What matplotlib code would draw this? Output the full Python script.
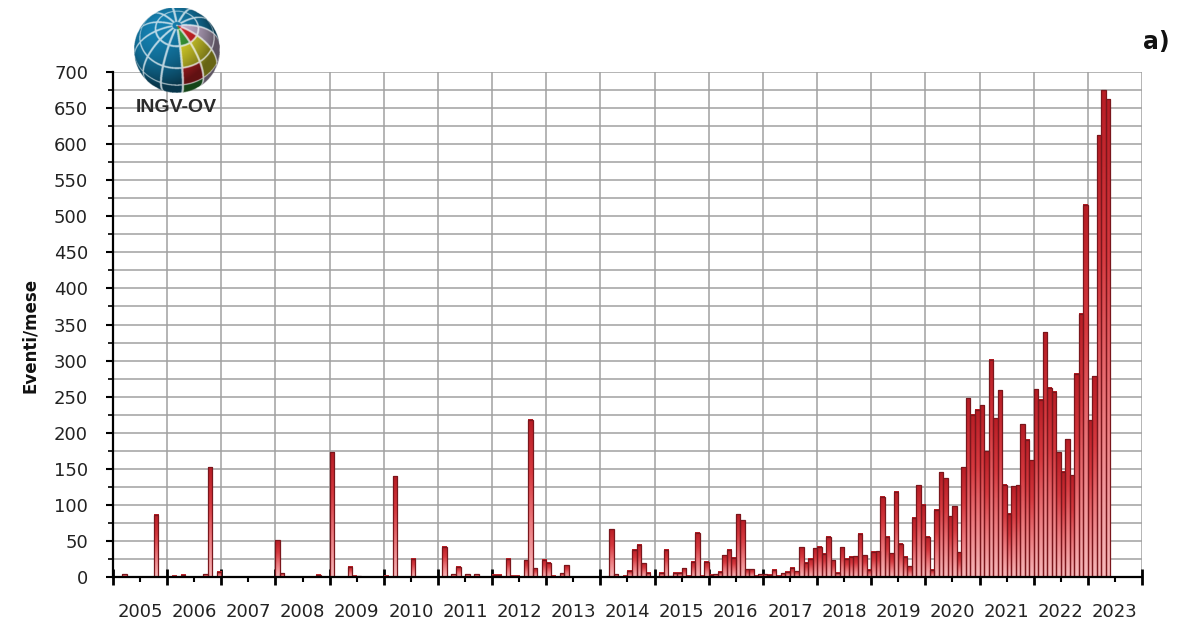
import numpy as np
import matplotlib
matplotlib.use("Agg")
import matplotlib.pyplot as plt
from matplotlib.colors import LinearSegmentedColormap, to_rgb

# ---------------- data (events per month, Jan..Dec) ----------------
years = list(range(2005, 2024))
year_labels = [str(y) for y in years]

ev_2005 = [0, 0, 4, 0, 0, 0, 0, 0, 0, 86, 0, 0]
ev_2006 = [0, 2, 0, 3, 0, 0, 0, 0, 4, 152, 0, 7]
ev_2007 = [0, 0, 0, 0, 0, 0, 0, 0, 0, 0, 0, 0]
ev_2008 = [51, 5, 0, 0, 0, 0, 0, 0, 0, 3, 0, 0]
ev_2009 = [173, 0, 0, 0, 14, 2, 1, 0, 0, 0, 0, 0]
ev_2010 = [2, 0, 140, 0, 0, 0, 25, 0, 0, 0, 0, 0]
ev_2011 = [0, 42, 0, 4, 14, 0, 4, 0, 4, 0, 0, 0]
ev_2012 = [3, 3, 0, 25, 2, 2, 0, 23, 218, 12, 0, 24]
ev_2013 = [20, 2, 0, 5, 16, 0, 0, 0, 0, 0, 0, 0]
ev_2014 = [0, 0, 66, 4, 0, 2, 9, 38, 45, 19, 6, 0]
ev_2015 = [0, 6, 38, 1, 6, 6, 12, 2, 21, 61, 2, 21]
ev_2016 = [3, 4, 7, 30, 38, 27, 87, 79, 11, 11, 2, 4]
ev_2017 = [4, 3, 10, 2, 5, 7, 13, 8, 41, 20, 25, 40]
ev_2018 = [42, 32, 56, 23, 6, 41, 25, 28, 29, 60, 30, 10]
ev_2019 = [35, 36, 111, 56, 33, 118, 46, 28, 15, 82, 127, 100]
ev_2020 = [56, 10, 93, 145, 137, 84, 98, 34, 152, 248, 225, 232]
ev_2021 = [238, 174, 301, 220, 259, 128, 88, 126, 127, 212, 190, 162]
ev_2022 = [260, 246, 339, 262, 257, 173, 146, 191, 141, 282, 365, 516]
ev_2023 = [217, 278, 612, 675, 662]

monthly_events = (ev_2005 + ev_2006 + ev_2007 + ev_2008 + ev_2009 + ev_2010 +
                  ev_2011 + ev_2012 + ev_2013 + ev_2014 + ev_2015 + ev_2016 +
                  ev_2017 + ev_2018 + ev_2019 + ev_2020 + ev_2021 + ev_2022 +
                  ev_2023)

y_major = list(range(0, 701, 50))
y_minor = list(range(25, 700, 50))

# ---------------- figure ----------------
W, H = 1200, 633
plt.rcParams['font.family'] = ['DejaVu Sans']
fig = plt.figure(figsize=(W / 100, H / 100), dpi=100)
fig.patch.set_facecolor('white')
ax = fig.add_axes([113 / W, 1 - 577 / H, 1029 / W, 505 / H])

n = len(monthly_events)
n_years = len(years)
xpos = np.arange(n)

# grid first (behind everything)
ax.hlines(np.arange(25, 701, 25), 0, 12 * n_years, colors='#a0a0a0',
          linewidth=1.1, zorder=0.6)
ax.vlines(np.arange(12, 12 * n_years + 1, 12), 0, 700, colors='#a0a0a0',
          linewidth=1.1, zorder=0.6)

grad = np.linspace(0, 1, 128).reshape(-1, 1)
bar_cmap = LinearSegmentedColormap.from_list(
    'bar', ['#f7b8ba', '#ec7a7e', '#d6393f', '#b81d25'])
for xi, v in zip(xpos, monthly_events):
    if v > 0:
        ax.imshow(grad, extent=(xi, xi + 1, 0, v), origin='lower',
                  aspect='auto', cmap=bar_cmap, vmin=0, vmax=1,
                  interpolation='bilinear', zorder=2)
ax.bar(xpos + 0.5, monthly_events, width=1.0, facecolor='none',
       edgecolor='#7a161c', linewidth=0.9, zorder=3)

ax.set_xlim(0, 12 * n_years)
ax.set_ylim(0, 700)

# x ticks: year boundaries (major) and labels centred in each year
ax.set_xticks(np.arange(0, 12 * n_years + 1, 12))
ax.set_xticklabels([])
ax.set_xticks(np.arange(6, 12 * n_years, 12), minor=True)
ax.set_xticklabels(year_labels, minor=True)
ax.tick_params(axis='x', which='major', direction='inout', length=11,
               width=2.0, color='black')
ax.tick_params(axis='x', which='minor', direction='out', length=3.6,
               width=1.5, color='black', pad=15, labelsize=13,
               labelcolor='#222222')

ax.set_yticks(y_major)
ax.set_yticklabels([str(v) for v in y_major])
ax.set_yticks(y_minor, minor=True)
ax.tick_params(axis='y', which='major', direction='out', length=5,
               width=1.5, color='black', pad=13, labelsize=13,
               labelcolor='#222222')
ax.tick_params(axis='y', which='minor', direction='out', length=3.6,
               width=1.2, color='black')

for s in ['top', 'right']:
    ax.spines[s].set_visible(False)
for s in ['left', 'bottom']:
    ax.spines[s].set_color('black')
    ax.spines[s].set_linewidth(1.6)
    ax.spines[s].set_zorder(4)

fig.text(30 / W, 1 - 335 / H, 'Eventi/mese', rotation=90, ha='center',
         va='center', fontsize=12, fontweight='bold', color='#111111')
fig.text(1156 / W, 1 - 42 / H, 'a)', ha='center', va='center',
         fontsize=17, fontweight='bold', color='#111111')

# ---------------- INGV logo (decorative globe) ----------------
cx, cy, r = 176.5, 50.5, 43.0
lax = fig.add_axes([(cx - r) / W, 1 - (cy + r) / H, 2 * r / W, 2 * r / H])
N = 320
u = np.linspace(-1, 1, N)
X, Y = np.meshgrid(u, -u)
rho = np.sqrt(X ** 2 + Y ** 2)
inside = rho <= 1.0
rr = np.clip(rho, 1e-9, 1.0)
c = np.arcsin(rr)
lat0, lon0 = np.radians(55), np.radians(-8)
lat = np.arcsin(np.clip(np.cos(c) * np.sin(lat0) + Y * np.sin(c) * np.cos(lat0) / rr, -1, 1))
lon = lon0 + np.arctan2(X * np.sin(c), rr * np.cos(c) * np.cos(lat0) - Y * np.sin(c) * np.sin(lat0))
latd = np.degrees(lat)
lond = (np.degrees(lon) + 180) % 360 - 180

rgb = np.zeros((N, N, 3))
base = np.array(to_rgb('#137aa8'))
rgb[:] = base
palette = {
    (2, 0): '#3c9e3a', (2, 1): '#d9262a', (2, 2): '#cdb9d8',
    (1, 0): '#e6df2e', (1, 1): '#e6df2e', (1, 2): '#cdb9d8',
    (0, 0): '#d9262a', (0, 1): '#e6df2e', (0, 2): '#cdb9d8',
    (-1, 0): '#2f9a36', (-1, 1): '#cdb9d8', (-1, 2): '#cdb9d8',
    (-2, 0): '#2f9a36', (-2, 1): '#cdb9d8', (-2, 2): '#cdb9d8',
    (-3, 0): '#2f9a36', (-3, 1): '#cdb9d8', (-3, 2): '#cdb9d8',
}
lat_band = np.floor(latd / 30).astype(int)
lon_band = np.floor(lond / 30).astype(int)
for (lb, ob), col in palette.items():
    m = (lat_band == lb) & (lon_band == ob)
    rgb[m] = to_rgb(col)
Z = np.sqrt(np.clip(1 - X ** 2 - Y ** 2, 0, 1))
L = np.array([-0.45, 0.55, 0.70])
L = L / np.linalg.norm(L)
shade = np.clip(X * L[0] + Y * L[1] + Z * L[2], 0, 1)
rgb = rgb * (0.45 + 0.6 * shade[..., None])
rgb = np.clip(rgb, 0, 1)
dlon = np.abs(((lond + 15) % 30) - 15) * np.cos(lat)
dlat = np.abs(((latd + 15) % 30) - 15)
line = ((dlon < 1.5) & (latd < 84)) | (dlat < 1.3)
rgb[line] = rgb[line] * 0.25 + 0.75 * np.array([0.95, 0.97, 0.98])
rgba = np.dstack([rgb, inside.astype(float)])
lax.imshow(rgba, extent=(-1, 1, -1, 1), origin='upper', interpolation='bilinear')
lax.set_xlim(-1, 1)
lax.set_ylim(-1, 1)
lax.axis('off')

fig.text(176 / W, 1 - 107 / H, 'INGV-OV', ha='center', va='center',
         fontsize=14, fontweight='bold', family=['Liberation Sans', 'DejaVu Sans'],
         color='#2b2b2b')

fig.savefig('out.png', dpi=100, facecolor='white')
